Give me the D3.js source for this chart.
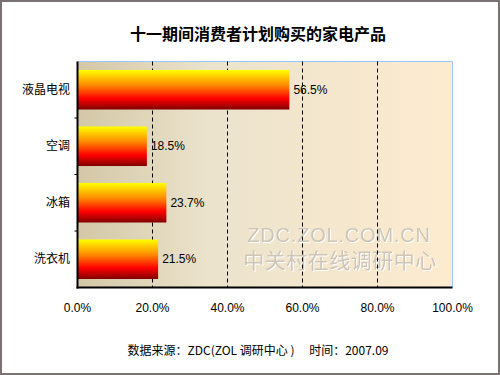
<!DOCTYPE html>
<html>
<head>
<meta charset="utf-8">
<script src="https://d3js.org/d3.v7.min.js"></script>
<style>
    body { margin: 0; background: #fff; }
    text { font-family: Arial, "Liberation Sans", "Noto Sans CJK SC", sans-serif; fill: #000; }
</style>
</head>
<body>
<div id="chart"></div>
<script>
    var categories = ["液晶电视", "空调", "冰箱", "洗衣机"];
    var values = [56.5, 18.5, 23.7, 21.5];
    var xTicks = [0, 20, 40, 60, 80, 100];

    var width = 500, height = 375;
    var margin = { top: 61.5, left: 77.5, right: 47.5, bottom: 87 };

    var svg = d3.select("#chart").append("svg")
        .attr("width", width)
        .attr("height", height);

    var defs = svg.append("defs");

    // plot background, tan to cream
    var bg = defs.append("linearGradient").attr("id", "bg")
        .attr("x1", "0%").attr("x2", "100%").attr("y1", "0%").attr("y2", "0%");
    bg.append("stop").attr("offset", "0%").attr("stop-color", "#d3c7a6");
    bg.append("stop").attr("offset", "35%").attr("stop-color", "#ebe3cc");
    bg.append("stop").attr("offset", "100%").attr("stop-color", "#fdebcf");

    // bar fill, yellow -> red -> dark red
    var bar = defs.append("linearGradient").attr("id", "bar")
        .attr("x1", "0%").attr("x2", "0%").attr("y1", "0%").attr("y2", "100%");
    bar.append("stop").attr("offset", "0%").attr("stop-color", "#ffff00");
    bar.append("stop").attr("offset", "38%").attr("stop-color", "#ff8c00");
    bar.append("stop").attr("offset", "72%").attr("stop-color", "#ff0000");
    bar.append("stop").attr("offset", "100%").attr("stop-color", "#800000");

    // embossed look for the watermark
    var emb = defs.append("filter").attr("id", "emboss");
    emb.append("feDropShadow")
        .attr("dx", 1).attr("dy", 1).attr("stdDeviation", 0)
        .attr("flood-color", "#ffffff").attr("flood-opacity", 1);

    // outer frame
    svg.append("rect")
        .attr("x", 1).attr("y", 1)
        .attr("width", width - 2).attr("height", height - 2)
        .attr("fill", "none")
        .attr("stroke", "#7a7272")
        .attr("stroke-width", 2);

    svg.append("text")
        .attr("x", 258)
        .attr("y", 40)
        .attr("text-anchor", "middle")
        .style("font-family", "'Noto Sans CJK SC', sans-serif")
        .style("font-size", "16px")
        .style("font-weight", "bold")
        .text("十一期间消费者计划购买的家电产品");

    var plotW = width - margin.left - margin.right;
    var plotH = height - margin.top - margin.bottom - 0.5;

    var x = d3.scaleLinear().domain([0, 100]).range([margin.left, margin.left + plotW]);
    var y = d3.scaleBand().domain(categories)
        .range([margin.top, margin.top + plotH])
        .paddingInner(0.3).paddingOuter(0.15);

    svg.append("rect")
        .attr("x", x(0)).attr("y", margin.top)
        .attr("width", plotW).attr("height", plotH)
        .attr("fill", "url(#bg)");

    // top/right light blue border
    svg.append("path")
        .attr("d", "M" + x(0) + "," + margin.top + "H" + x(100) + "V" + (margin.top + plotH))
        .attr("fill", "none")
        .attr("stroke", "#99c8ff")
        .attr("stroke-width", 1);

    // watermark
    var wm = svg.append("g")
        .attr("text-anchor", "middle")
        .attr("filter", "url(#emboss)");
    wm.append("text").attr("x", 339).attr("y", 242)
        .style("fill", "#cdc6b8").style("font-size", "20px")
        .style("letter-spacing", "0.8px")
        .text("ZDC.ZOL.COM.CN");
    wm.append("text").attr("x", 340).attr("y", 268)
        .style("fill", "#cdc6b8").style("font-size", "21px")
        .style("font-family", "'Noto Sans CJK SC', sans-serif")
        .style("letter-spacing", "0.5px")
        .text("中关村在线调研中心");

    // dashed gridlines
    svg.append("g")
        .selectAll("line")
        .data(xTicks.filter(function (d) { return d > 0 && d < 100; }))
        .enter().append("line")
        .attr("x1", function (d) { return x(d); })
        .attr("x2", function (d) { return x(d); })
        .attr("y1", margin.top)
        .attr("y2", margin.top + plotH)
        .attr("stroke", "#000")
        .attr("stroke-dasharray", "4,3");

    svg.append("g")
        .selectAll("rect")
        .data(values)
        .enter().append("rect")
        .attr("x", x(0))
        .attr("y", function (d, i) { return y(categories[i]); })
        .attr("width", function (d) { return x(d) - x(0); })
        .attr("height", y.bandwidth())
        .attr("fill", "url(#bar)");

    svg.append("g")
        .selectAll("text")
        .data(values)
        .enter().append("text")
        .attr("x", function (d) { return x(d) + 4; })
        .attr("y", function (d, i) { return y(categories[i]) + y.bandwidth() / 2; })
        .attr("dy", "0.35em")
        .style("font-size", "12px")
        .text(function (d) { return d.toFixed(1) + "%"; });

    // category labels
    svg.append("g")
        .selectAll("text")
        .data(categories)
        .enter().append("text")
        .attr("x", 70)
        .attr("y", function (d) { return y(d) + y.bandwidth() / 2; })
        .attr("dy", "0.35em")
        .attr("text-anchor", "end")
        .style("font-family", "'Noto Sans CJK SC', sans-serif")
        .style("font-size", "12px")
        .text(function (d) { return d; });

    // left axis with separators between bands
    var step = plotH / categories.length;
    svg.append("g")
        .selectAll("line")
        .data(d3.range(1, categories.length))
        .enter().append("line")
        .attr("x1", x(0) - 3).attr("x2", x(0))
        .attr("y1", function (d) { return margin.top + d * step; })
        .attr("y2", function (d) { return margin.top + d * step; })
        .attr("stroke", "#000");
    svg.append("line")
        .attr("x1", x(0)).attr("x2", x(0))
        .attr("y1", margin.top).attr("y2", margin.top + plotH + 1)
        .attr("stroke", "#000").attr("stroke-width", 2);
    svg.append("line")
        .attr("x1", x(0) - 1).attr("x2", x(100))
        .attr("y1", margin.top + plotH).attr("y2", margin.top + plotH)
        .attr("stroke", "#000").attr("stroke-width", 2);

    svg.append("g")
        .selectAll("text")
        .data(xTicks)
        .enter().append("text")
        .attr("x", function (d) { return x(d); })
        .attr("y", 312)
        .attr("text-anchor", "middle")
        .style("font-size", "12px")
        .text(function (d) { return d.toFixed(1) + "%"; });

    svg.append("text")
        .attr("x", 258)
        .attr("y", 355)
        .attr("text-anchor", "middle")
        .style("font-family", "'Noto Sans CJK SC', sans-serif")
        .style("font-size", "12px")
        .text("数据来源：ZDC(ZOL 调研中心 )　  时间：2007.09");
</script>
</body>
</html>
